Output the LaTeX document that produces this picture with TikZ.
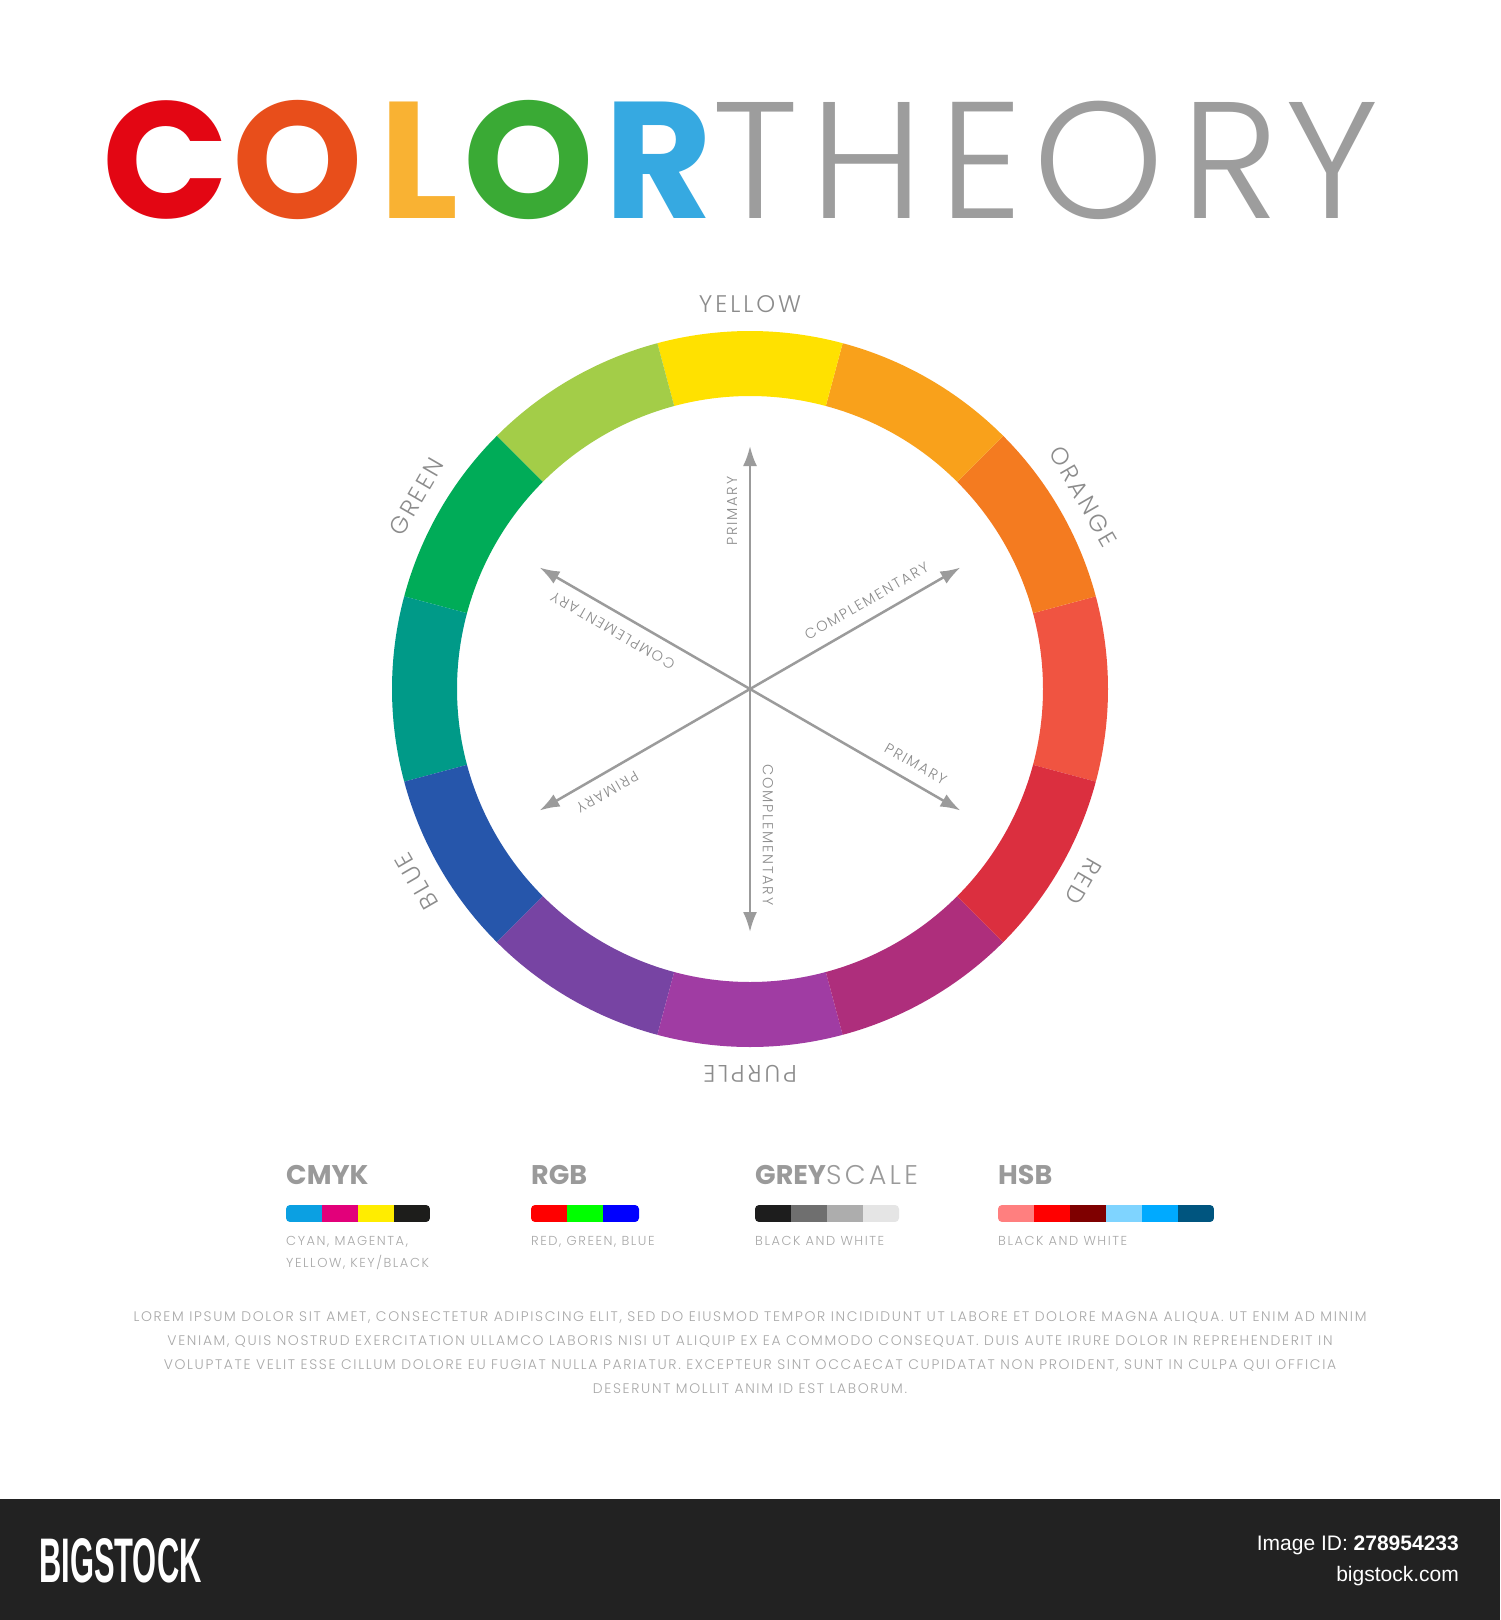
\documentclass[tikz,border=0pt]{standalone}
\usepackage{fontspec}
\setmainfont{Poppins Light}
\newfontfamily\heavy{Poppins Bold}
\newfontfamily\thinfont{Poppins Light}
\newfontfamily\spaced{Poppins Light}[LetterSpace=12]
\newfontfamily\footfont{Liberation Sans}
\usetikzlibrary{positioning,calc,arrows.meta}
% title
\definecolor{tRed}{HTML}{E30613}
\definecolor{tOrange}{HTML}{E84E1B}
\definecolor{tYellow}{HTML}{F9B233}
\definecolor{tGreen}{HTML}{3AAA35}
\definecolor{tBlue}{HTML}{36A9E1}
\definecolor{tGray}{HTML}{9D9D9D}
% wheel
\definecolor{wRO}{HTML}{F05441}
\definecolor{wO}{HTML}{F47B20}
\definecolor{wYO}{HTML}{F9A11B}
\definecolor{wY}{HTML}{FFE100}
\definecolor{wYG}{HTML}{A3CD48}
\definecolor{wG}{HTML}{00AC58}
\definecolor{wT}{HTML}{009A88}
\definecolor{wB}{HTML}{2656AB}
\definecolor{wV}{HTML}{7744A3}
\definecolor{wP}{HTML}{A03CA3}
\definecolor{wM}{HTML}{AE2E7C}
\definecolor{wR}{HTML}{DB2F3F}
% greys
\definecolor{lblgray}{HTML}{8C8C8C}
\definecolor{arrgray}{HTML}{9B9B9B}
\definecolor{headgray}{HTML}{9A9A9A}
\definecolor{subgray}{HTML}{A8A8A8}
\definecolor{footbg}{HTML}{222222}
% swatches
\definecolor{cC}{HTML}{0BA0E2}
\definecolor{cM}{HTML}{E2007A}
\definecolor{cY}{HTML}{FFED00}
\definecolor{cK}{HTML}{1D1D1B}
\definecolor{rR}{HTML}{FF0000}
\definecolor{rG}{HTML}{00FF00}
\definecolor{rB}{HTML}{0000FF}
\definecolor{gA}{HTML}{1D1D1D}
\definecolor{gB}{HTML}{6F6F6F}
\definecolor{gC}{HTML}{ADADAD}
\definecolor{gD}{HTML}{E5E5E5}
\definecolor{hA}{HTML}{FF7F7F}
\definecolor{hB}{HTML}{FF0000}
\definecolor{hC}{HTML}{7F0000}
\definecolor{hD}{HTML}{7FD4FF}
\definecolor{hE}{HTML}{00AAFF}
\definecolor{hF}{HTML}{00557F}
\begin{document}
\begin{tikzpicture}[x=1pt, y=-1pt,
    letter/.style={anchor=base, inner sep=0pt},
    ringlbl/.style={text=lblgray, inner sep=0pt, font=\spaced\fontsize{24}{24}\selectfont},
    arrlbl/.style={text=lblgray, inner sep=0pt, font=\spaced\fontsize{14.5}{14.5}\selectfont},
    arr/.style={draw=arrgray, line width=2.5pt, {Latex[length=20pt,width=14pt]}-{Latex[length=20pt,width=14pt]}},
    head/.style={anchor=base west, inner sep=0pt, text=headgray, font=\heavy\fontsize{27}{27}\selectfont},
    sub/.style={anchor=base west, inner sep=0pt, text=subgray, font=\spaced\fontsize{13}{13}\selectfont},
    lorem/.style={anchor=base, inner sep=0pt, text=subgray, font=\spaced\fontsize{13.9}{13.9}\selectfont}
    ]
    \fill[white] (0,0) rectangle (1500,1620);
    \useasboundingbox (0,0) rectangle (1500,1620);
    % title
    \foreach \ch/\xc/\col [count=\n] in {C/165.5/tRed, O/297.5/tOrange, L/419/tYellow, O/528.5/tGreen, R/659/tBlue}
      \node[letter, text=\col, font=\heavy\fontsize{166}{166}\selectfont] (c\n) at (\xc,218) {\ch};
    \foreach \ch/\xc [count=\n] in {T/755.5, H/867, E/981.5, O/1098.5, R/1230.5, Y/1332.5}
      \node[letter, text=tGray, font=\thinfont\fontsize{166}{166}\selectfont] (t\n) at (\xc,218) {\ch};
    % wheel
    \begin{scope}[shift={(750,689)}, yscale=-1]
      \foreach \col [count=\i from 0, evaluate=\i as \sa using \i*30-15, evaluate=\i as \ea using \i*30+15]
          in {wRO, wO, wYO, wY, wYG, wG, wT, wB, wV, wP, wM, wR}
        \fill[\col] (\sa:293) arc[start angle=\sa, end angle=\ea, radius=293] -- (\ea:358)
          arc[start angle=\ea, end angle=\sa, radius=358] -- cycle;
      \foreach \a/\txt in {90/YELLOW, 30/ORANGE, -30/RED, -90/PURPLE, 210/BLUE, 150/GREEN}
        \node[ringlbl, rotate=\a-90] (lbl\txt) at (\a:385) {\txt};
      \coordinate (tipN) at (90:243);
      \coordinate (tipS) at (-90:243);
      \coordinate (tipNE) at (30:243);
      \coordinate (tipSW) at (210:243);
      \coordinate (tipNW) at (150:243);
      \coordinate (tipSE) at (-30:243);
      \draw[arr] (tipN) -- (tipS);
      \draw[arr] (tipNE) -- (tipSW);
      \draw[arr] (tipNW) -- (tipSE);
      \node[arrlbl, rotate=90] (primN) at ($(90:178)+(180:18)$) {PRIMARY};
      \node[arrlbl, rotate=-30] (primSE) at ($(-30:181)+(60:18)$) {PRIMARY};
      \node[arrlbl, rotate=210] (primSW) at ($(210:175)+(300:18)$) {PRIMARY};
      \node[arrlbl, rotate=30] (compNE) at ($(30:145)+(120:18)$) {COMPLEMENTARY};
      \node[arrlbl, rotate=150] (compNW) at ($(150:148)+(240:18)$) {COMPLEMENTARY};
      \node[arrlbl, rotate=-90] (compS) at ($(-90:146)+(0:18)$) {COMPLEMENTARY};
    \end{scope}
    % legend
    \node[head] (cmyk) at (286,1184) {CMYK};
    \node[head] (rgb) at (531,1184) {RGB};
    \node[head] (grey) at (755,1184) {GREY{\spaced SCALE}};
    \node[head] (hsb) at (998,1184) {HSB};
    \foreach \x/\n/\cols in {286/4/{cC,cM,cY,cK}, 531/3/{rR,rG,rB}, 755/4/{gA,gB,gC,gD}, 998/6/{hA,hB,hC,hD,hE,hF}} {
      \begin{scope}
        \clip[rounded corners=4pt] (\x,1205) rectangle ++(\n*36,17);
        \foreach \c [count=\k from 0] in \cols
          \fill[\c] (\x+\k*36,1205) rectangle ++(36.5,17);
      \end{scope}
    }
    \node[sub] (cmyk1) at (286,1245) {CYAN, MAGENTA,};
    \node[sub] (cmyk2) at (286,1267) {YELLOW, KEY/BLACK};
    \node[sub] (rgb1) at (531,1245) {RED, GREEN, BLUE};
    \node[sub] (grey1) at (755,1245) {BLACK AND WHITE};
    \node[sub] (hsb1) at (998,1245) {BLACK AND WHITE};
    % body text
    \node[lorem] (line1) at (750,1321) {LOREM IPSUM DOLOR SIT AMET, CONSECTETUR ADIPISCING ELIT, SED DO EIUSMOD TEMPOR INCIDIDUNT UT LABORE ET DOLORE MAGNA ALIQUA. UT ENIM AD MINIM};
    \node[lorem] (line2) at (750,1345) {VENIAM, QUIS NOSTRUD EXERCITATION ULLAMCO LABORIS NISI UT ALIQUIP EX EA COMMODO CONSEQUAT. DUIS AUTE IRURE DOLOR IN REPREHENDERIT IN};
    \node[lorem] (line3) at (750,1369) {VOLUPTATE VELIT ESSE CILLUM DOLORE EU FUGIAT NULLA PARIATUR. EXCEPTEUR SINT OCCAECAT CUPIDATAT NON PROIDENT, SUNT IN CULPA QUI OFFICIA};
    \node[lorem] (line4) at (750,1393) {DESERUNT MOLLIT ANIM ID EST LABORUM.};
    % footer
    \fill[footbg] (0,1499) rectangle (1500,1620);
    \node[anchor=west, inner sep=0pt, text=white, font=\footfont\bfseries\fontsize{63}{63}\selectfont] (brand) at (39,1561) {\scalebox{0.49}[1]{BIGSTOCK}};
    \node[anchor=base east, inner sep=0pt, text=white, font=\footfont\fontsize{21}{21}\selectfont] (imgid) at (1459,1550) {Image ID: \textbf{278954233}};
    \node[anchor=base east, inner sep=0pt, text=white, font=\footfont\fontsize{21}{21}\selectfont] (site) at (1459,1581) {bigstock.com};
\end{tikzpicture}
\end{document}
